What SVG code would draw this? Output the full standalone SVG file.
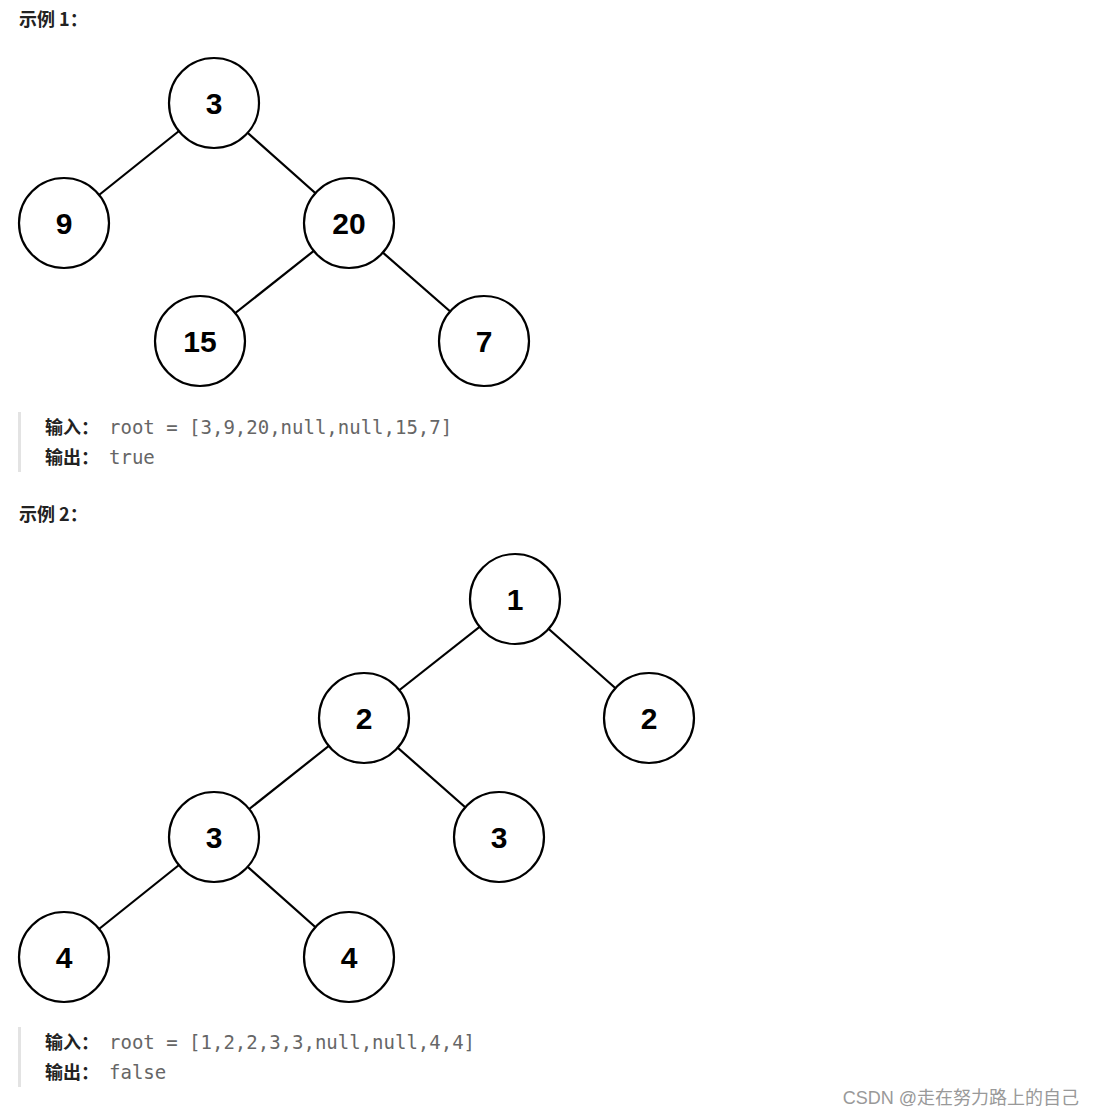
<svg xmlns="http://www.w3.org/2000/svg" width="1094" height="1116" viewBox="0 0 1094 1116">
<style>
.n circle{fill:#fff;stroke:#000;stroke-width:2.2}
.n text{font-family:"Liberation Sans",Arial,sans-serif;font-weight:bold;font-size:30px;text-anchor:middle;fill:#000}
.e line{stroke:#000;stroke-width:2.2}
.h{font-family:"Noto Sans CJK SC","Liberation Sans",sans-serif;font-weight:bold;font-size:18px;fill:#222}
.c{font-family:"DejaVu Sans Mono","Liberation Mono",monospace;font-size:19px;fill:#666}
.bar{fill:#e3e3e3}
</style>
<rect width="1094" height="1116" fill="#fff"/>
<text class="h" x="19" y="26">示例 1：</text>
<g class="e">
<line x1="214" y1="103" x2="64" y2="223"/><line x1="214" y1="103" x2="349" y2="223"/>
<line x1="349" y1="223" x2="200" y2="341"/><line x1="349" y1="223" x2="484" y2="341"/>
<line x1="515" y1="599" x2="364" y2="718"/><line x1="515" y1="599" x2="649" y2="718"/>
<line x1="364" y1="718" x2="214" y2="837"/><line x1="364" y1="718" x2="499" y2="837"/>
<line x1="214" y1="837" x2="64" y2="957"/><line x1="214" y1="837" x2="349" y2="957"/>
</g>
<g id="t1n3" class="n"><circle cx="214" cy="103" r="45"/><text x="214" y="114">3</text></g>
<g id="t1n9" class="n"><circle cx="64" cy="223" r="45"/><text x="64" y="234">9</text></g>
<g id="t1n20" class="n"><circle cx="349" cy="223" r="45"/><text x="349" y="234">20</text></g>
<g id="t1n15" class="n"><circle cx="200" cy="341" r="45"/><text x="200" y="352">15</text></g>
<g id="t1n7" class="n"><circle cx="484" cy="341" r="45"/><text x="484" y="352">7</text></g>
<rect class="bar" x="18" y="412" width="3" height="60"/>
<text class="h" x="45" y="434">输入：</text><text class="c" x="109" y="434">root = [3,9,20,null,null,15,7]</text>
<text class="h" x="45" y="464">输出：</text><text class="c" x="109" y="464">true</text>
<text class="h" x="19" y="521">示例 2：</text>
<g id="t2n1" class="n"><circle cx="515" cy="599" r="45"/><text x="515" y="610">1</text></g>
<g id="t2n2a" class="n"><circle cx="364" cy="718" r="45"/><text x="364" y="729">2</text></g>
<g id="t2n2b" class="n"><circle cx="649" cy="718" r="45"/><text x="649" y="729">2</text></g>
<g id="t2n3a" class="n"><circle cx="214" cy="837" r="45"/><text x="214" y="848">3</text></g>
<g id="t2n3b" class="n"><circle cx="499" cy="837" r="45"/><text x="499" y="848">3</text></g>
<g id="t2n4a" class="n"><circle cx="64" cy="957" r="45"/><text x="64" y="968">4</text></g>
<g id="t2n4b" class="n"><circle cx="349" cy="957" r="45"/><text x="349" y="968">4</text></g>
<rect class="bar" x="18" y="1027" width="3" height="60"/>
<text class="h" x="45" y="1049">输入：</text><text class="c" x="109" y="1049">root = [1,2,2,3,3,null,null,4,4]</text>
<text class="h" x="45" y="1079">输出：</text><text class="c" x="109" y="1079">false</text>
<text x="1079" y="1104" text-anchor="end" font-family="'Liberation Sans','Noto Sans CJK SC',sans-serif" font-size="18" fill="#999">CSDN @走在努力路上的自己</text>
</svg>
